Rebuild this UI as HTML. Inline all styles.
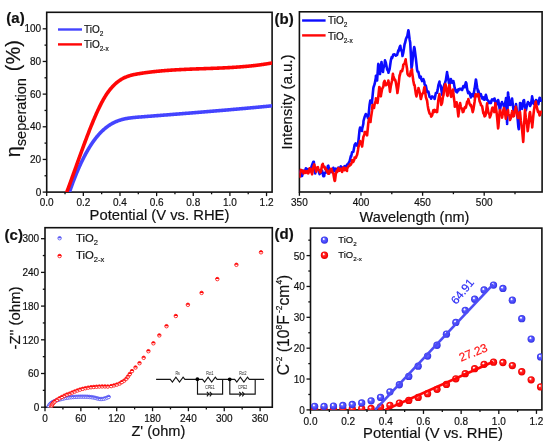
<!DOCTYPE html>
<html><head><meta charset="utf-8"><style>
html,body{margin:0;padding:0;background:#fff;}
svg{display:block;will-change:transform;}
text{font-family:"Liberation Sans", sans-serif;fill:#111;stroke:#111;stroke-width:0.18px;}
.t5{font-size:5px;fill:#333;}
.t7{font-size:7px;}
.t8{font-size:8px;}
.t9{font-size:10px;}
.t95{font-size:10px;}
.t10{font-size:10px;}
.t105{font-size:10.5px;}
.t11{font-size:11px;}
.t12{font-size:12px;}
.t13{font-size:13px;}
.t14{font-size:14px;}
.t145{font-size:14.5px;}
.t15{font-size:15px;}
.t20{font-size:20px;}
.b15{font-size:15px;font-weight:bold;}
</style></head>
<body><svg width="550" height="445" viewBox="0 0 550 445">
<rect width="550" height="445" fill="#fff"/>
<rect x="46.7" y="12.3" width="225.40000000000003" height="179.79999999999998" fill="none" stroke="#111" stroke-width="1.6"/>
<line x1="42.7" y1="192.10" x2="46.7" y2="192.10" stroke="#111" stroke-width="1.3"/>
<text x="41.2" y="195.70" text-anchor="end" class="t9">0</text>
<line x1="44.5" y1="175.77" x2="46.7" y2="175.77" stroke="#111" stroke-width="1.3"/>
<line x1="42.7" y1="159.44" x2="46.7" y2="159.44" stroke="#111" stroke-width="1.3"/>
<text x="41.2" y="163.04" text-anchor="end" class="t9">20</text>
<line x1="44.5" y1="143.11" x2="46.7" y2="143.11" stroke="#111" stroke-width="1.3"/>
<line x1="42.7" y1="126.78" x2="46.7" y2="126.78" stroke="#111" stroke-width="1.3"/>
<text x="41.2" y="130.38" text-anchor="end" class="t9">40</text>
<line x1="44.5" y1="110.45" x2="46.7" y2="110.45" stroke="#111" stroke-width="1.3"/>
<line x1="42.7" y1="94.12" x2="46.7" y2="94.12" stroke="#111" stroke-width="1.3"/>
<text x="41.2" y="97.72" text-anchor="end" class="t9">60</text>
<line x1="44.5" y1="77.79" x2="46.7" y2="77.79" stroke="#111" stroke-width="1.3"/>
<line x1="42.7" y1="61.46" x2="46.7" y2="61.46" stroke="#111" stroke-width="1.3"/>
<text x="41.2" y="65.06" text-anchor="end" class="t9">80</text>
<line x1="44.5" y1="45.13" x2="46.7" y2="45.13" stroke="#111" stroke-width="1.3"/>
<line x1="42.7" y1="28.80" x2="46.7" y2="28.80" stroke="#111" stroke-width="1.3"/>
<text x="41.2" y="32.40" text-anchor="end" class="t9">100</text>
<line x1="46.70" y1="192.1" x2="46.70" y2="196.1" stroke="#111" stroke-width="1.3"/>
<text x="46.70" y="206.2" text-anchor="middle" class="t10">0.0</text>
<line x1="65.02" y1="192.1" x2="65.02" y2="194.29999999999998" stroke="#111" stroke-width="1.3"/>
<line x1="83.34" y1="192.1" x2="83.34" y2="196.1" stroke="#111" stroke-width="1.3"/>
<text x="83.34" y="206.2" text-anchor="middle" class="t10">0.2</text>
<line x1="101.66" y1="192.1" x2="101.66" y2="194.29999999999998" stroke="#111" stroke-width="1.3"/>
<line x1="119.98" y1="192.1" x2="119.98" y2="196.1" stroke="#111" stroke-width="1.3"/>
<text x="119.98" y="206.2" text-anchor="middle" class="t10">0.4</text>
<line x1="138.30" y1="192.1" x2="138.30" y2="194.29999999999998" stroke="#111" stroke-width="1.3"/>
<line x1="156.62" y1="192.1" x2="156.62" y2="196.1" stroke="#111" stroke-width="1.3"/>
<text x="156.62" y="206.2" text-anchor="middle" class="t10">0.6</text>
<line x1="174.94" y1="192.1" x2="174.94" y2="194.29999999999998" stroke="#111" stroke-width="1.3"/>
<line x1="193.26" y1="192.1" x2="193.26" y2="196.1" stroke="#111" stroke-width="1.3"/>
<text x="193.26" y="206.2" text-anchor="middle" class="t10">0.8</text>
<line x1="211.58" y1="192.1" x2="211.58" y2="194.29999999999998" stroke="#111" stroke-width="1.3"/>
<line x1="229.90" y1="192.1" x2="229.90" y2="196.1" stroke="#111" stroke-width="1.3"/>
<text x="229.90" y="206.2" text-anchor="middle" class="t10">1.0</text>
<line x1="248.22" y1="192.1" x2="248.22" y2="194.29999999999998" stroke="#111" stroke-width="1.3"/>
<line x1="266.54" y1="192.1" x2="266.54" y2="196.1" stroke="#111" stroke-width="1.3"/>
<text x="266.54" y="206.2" text-anchor="middle" class="t10">1.2</text>
<text x="159.5" y="220" text-anchor="middle" style="font-size:14.8px">Potential (V vs. RHE)</text>
<text transform="translate(20.2,157.3) rotate(-90)" class="t20">η<tspan style="font-size:14.6px" dy="6">seperation</tspan><tspan style="font-size:20px" dy="-6" dx="1.2"> (%)</tspan></text>
<text x="6.3" y="22.6" class="b15">(a)</text>
<line x1="58" y1="29.5" x2="82" y2="29.5" stroke="#4444ff" stroke-width="2.4"/>
<line x1="58" y1="44.4" x2="82" y2="44.4" stroke="#ff0606" stroke-width="2.4"/>
<text x="84" y="33.2" style="font-size:10px">TiO<tspan style="font-size:6.5px" dy="3">2</tspan></text>
<text x="84" y="47.7" style="font-size:10px">TiO<tspan style="font-size:6.5px" dy="3">2-x</tspan></text>
<defs><clipPath id="ca"><rect x="46.7" y="12.3" width="225.40000000000003" height="179.79999999999998"/></clipPath></defs>
<g clip-path="url(#ca)"><polyline points="68.40,195.11 68.90,193.64 69.40,192.18 69.90,190.74 70.40,189.32 70.90,187.92 71.40,186.53 71.90,185.16 72.40,183.81 72.90,182.47 73.40,181.15 73.90,179.85 74.40,178.57 74.90,177.30 75.40,176.05 75.90,174.81 76.40,173.59 76.90,172.39 77.40,171.20 77.90,170.03 78.40,168.88 78.90,167.74 79.40,166.62 79.90,165.51 80.40,164.42 80.90,163.35 81.40,162.29 81.90,161.25 82.40,160.22 82.90,159.21 83.40,158.21 83.90,157.23 84.40,156.26 84.90,155.31 85.40,154.37 85.90,153.45 86.40,152.54 86.90,151.65 87.40,150.77 87.90,149.91 88.40,149.06 88.90,148.23 89.40,147.41 89.90,146.60 90.40,145.81 90.90,145.03 91.40,144.27 91.90,143.52 92.40,142.78 92.90,142.06 93.40,141.35 93.90,140.65 94.40,139.97 94.90,139.30 95.40,138.64 95.90,138.00 96.40,137.37 96.90,136.76 97.40,136.15 97.90,135.56 98.40,134.98 98.90,134.42 99.40,133.86 99.90,133.32 100.40,132.79 100.90,132.28 101.40,131.77 101.90,131.28 102.40,130.80 102.90,130.33 103.40,129.87 103.90,129.42 104.40,128.99 104.90,128.56 105.40,128.15 105.90,127.74 106.40,127.35 106.90,126.97 107.40,126.59 107.90,126.23 108.40,125.88 108.90,125.54 109.40,125.20 109.90,124.88 110.40,124.57 110.90,124.26 111.40,123.96 111.90,123.68 112.40,123.40 112.90,123.13 113.40,122.87 113.90,122.62 114.40,122.37 114.90,122.14 115.40,121.91 115.90,121.69 116.40,121.47 116.90,121.27 117.40,121.07 117.90,120.88 118.40,120.69 118.90,120.51 119.40,120.34 119.90,120.18 120.40,120.02 120.90,119.87 121.40,119.72 121.90,119.58 122.40,119.44 122.90,119.31 123.40,119.19 123.90,119.07 124.40,118.96 124.90,118.85 125.40,118.74 125.90,118.64 126.40,118.55 126.90,118.45 127.40,118.37 127.90,118.28 128.40,118.20 128.90,118.12 129.40,118.05 129.90,117.98 130.40,117.91 130.90,117.85 131.40,117.79 131.90,117.73 132.40,117.67 132.90,117.62 133.40,117.57 133.90,117.52 134.40,117.47 134.90,117.42 135.40,117.37 135.90,117.33 136.40,117.29 136.90,117.25 137.40,117.20 137.90,117.16 138.40,117.12 138.90,117.08 139.40,117.04 139.90,117.00 140.40,116.97 140.90,116.93 141.40,116.89 141.90,116.85 142.40,116.81 142.90,116.77 143.40,116.73 143.90,116.69 144.40,116.65 144.90,116.61 145.40,116.57 145.90,116.53 146.40,116.49 146.90,116.45 147.40,116.41 147.90,116.37 148.40,116.33 148.90,116.29 149.40,116.26 149.90,116.22 150.40,116.18 150.90,116.14 151.40,116.10 151.90,116.06 152.40,116.02 152.90,115.98 153.40,115.94 153.90,115.90 154.40,115.86 154.90,115.82 155.40,115.78 155.90,115.74 156.40,115.70 156.90,115.66 157.40,115.63 157.90,115.59 158.40,115.55 158.90,115.51 159.40,115.47 159.90,115.43 160.40,115.39 160.90,115.35 161.40,115.31 161.90,115.27 162.40,115.23 162.90,115.19 163.40,115.15 163.90,115.11 164.40,115.07 164.90,115.03 165.40,115.00 165.90,114.96 166.40,114.92 166.90,114.88 167.40,114.84 167.90,114.80 168.40,114.76 168.90,114.72 169.40,114.68 169.90,114.64 170.40,114.60 170.90,114.56 171.40,114.52 171.90,114.48 172.40,114.44 172.90,114.40 173.40,114.36 173.90,114.32 174.40,114.28 174.90,114.24 175.40,114.20 175.90,114.17 176.40,114.13 176.90,114.09 177.40,114.05 177.90,114.01 178.40,113.97 178.90,113.93 179.40,113.89 179.90,113.85 180.40,113.81 180.90,113.77 181.40,113.73 181.90,113.69 182.40,113.65 182.90,113.61 183.40,113.57 183.90,113.53 184.40,113.49 184.90,113.45 185.40,113.41 185.90,113.37 186.40,113.33 186.90,113.29 187.40,113.25 187.90,113.21 188.40,113.17 188.90,113.13 189.40,113.09 189.90,113.05 190.40,113.01 190.90,112.97 191.40,112.93 191.90,112.89 192.40,112.85 192.90,112.81 193.40,112.76 193.90,112.72 194.40,112.68 194.90,112.64 195.40,112.60 195.90,112.56 196.40,112.52 196.90,112.48 197.40,112.44 197.90,112.40 198.40,112.36 198.90,112.32 199.40,112.28 199.90,112.24 200.40,112.20 200.90,112.15 201.40,112.11 201.90,112.07 202.40,112.03 202.90,111.99 203.40,111.95 203.90,111.91 204.40,111.87 204.90,111.83 205.40,111.79 205.90,111.74 206.40,111.70 206.90,111.66 207.40,111.62 207.90,111.58 208.40,111.54 208.90,111.50 209.40,111.45 209.90,111.41 210.40,111.37 210.90,111.33 211.40,111.29 211.90,111.25 212.40,111.20 212.90,111.16 213.40,111.12 213.90,111.08 214.40,111.04 214.90,111.00 215.40,110.95 215.90,110.91 216.40,110.87 216.90,110.83 217.40,110.78 217.90,110.74 218.40,110.70 218.90,110.66 219.40,110.62 219.90,110.57 220.40,110.53 220.90,110.49 221.40,110.45 221.90,110.40 222.40,110.36 222.90,110.32 223.40,110.27 223.90,110.23 224.40,110.19 224.90,110.15 225.40,110.10 225.90,110.06 226.40,110.02 226.90,109.97 227.40,109.93 227.90,109.89 228.40,109.84 228.90,109.80 229.40,109.76 229.90,109.71 230.40,109.67 230.90,109.63 231.40,109.58 231.90,109.54 232.40,109.50 232.90,109.45 233.40,109.41 233.90,109.36 234.40,109.32 234.90,109.28 235.40,109.23 235.90,109.19 236.40,109.14 236.90,109.10 237.40,109.05 237.90,109.01 238.40,108.97 238.90,108.92 239.40,108.88 239.90,108.83 240.40,108.79 240.90,108.74 241.40,108.70 241.90,108.65 242.40,108.61 242.90,108.56 243.40,108.52 243.90,108.47 244.40,108.43 244.90,108.38 245.40,108.34 245.90,108.29 246.40,108.25 246.90,108.20 247.40,108.15 247.90,108.11 248.40,108.06 248.90,108.02 249.40,107.97 249.90,107.93 250.40,107.88 250.90,107.83 251.40,107.79 251.90,107.74 252.40,107.69 252.90,107.65 253.40,107.60 253.90,107.56 254.40,107.51 254.90,107.46 255.40,107.42 255.90,107.37 256.40,107.32 256.90,107.27 257.40,107.23 257.90,107.18 258.40,107.13 258.90,107.09 259.40,107.04 259.90,106.99 260.40,106.94 260.90,106.90 261.40,106.85 261.90,106.80 262.40,106.75 262.90,106.70 263.40,106.66 263.90,106.61 264.40,106.56 264.90,106.51 265.40,106.46 265.90,106.42 266.40,106.37 266.90,106.32 267.40,106.27 267.90,106.22 268.40,106.17 268.90,106.12 269.40,106.07 269.90,106.03 270.40,105.98 270.90,105.93 271.40,105.88 271.90,105.83 272.40,105.78 272.90,105.73 273.40,105.68 273.90,105.63" fill="none" stroke="#4444ff" stroke-width="3.6" stroke-linejoin="round"/>
<polyline points="65.90,194.52 66.40,193.17 66.90,191.82 67.40,190.47 67.90,189.11 68.40,187.75 68.90,186.38 69.40,185.01 69.90,183.64 70.40,182.26 70.90,180.88 71.40,179.50 71.90,178.12 72.40,176.73 72.90,175.34 73.40,173.95 73.90,172.56 74.40,171.17 74.90,169.77 75.40,168.38 75.90,166.99 76.40,165.59 76.90,164.20 77.40,162.81 77.90,161.42 78.40,160.03 78.90,158.64 79.40,157.26 79.90,155.88 80.40,154.50 80.90,153.12 81.40,151.75 81.90,150.38 82.40,149.01 82.90,147.65 83.40,146.29 83.90,144.94 84.40,143.59 84.90,142.25 85.40,140.92 85.90,139.59 86.40,138.26 86.90,136.94 87.40,135.63 87.90,134.33 88.40,133.03 88.90,131.75 89.40,130.47 89.90,129.19 90.40,127.93 90.90,126.68 91.40,125.43 91.90,124.20 92.40,122.97 92.90,121.76 93.40,120.55 93.90,119.36 94.40,118.18 94.90,117.02 95.40,115.86 95.90,114.72 96.40,113.59 96.90,112.48 97.40,111.38 97.90,110.29 98.40,109.22 98.90,108.17 99.40,107.13 99.90,106.11 100.40,105.11 100.90,104.12 101.40,103.16 101.90,102.21 102.40,101.28 102.90,100.37 103.40,99.47 103.90,98.60 104.40,97.75 104.90,96.92 105.40,96.11 105.90,95.32 106.40,94.55 106.90,93.80 107.40,93.07 107.90,92.36 108.40,91.67 108.90,91.00 109.40,90.34 109.90,89.70 110.40,89.08 110.90,88.48 111.40,87.89 111.90,87.32 112.40,86.77 112.90,86.23 113.40,85.71 113.90,85.21 114.40,84.72 114.90,84.24 115.40,83.78 115.90,83.34 116.40,82.91 116.90,82.49 117.40,82.09 117.90,81.70 118.40,81.32 118.90,80.95 119.40,80.60 119.90,80.26 120.40,79.94 120.90,79.62 121.40,79.32 121.90,79.02 122.40,78.74 122.90,78.47 123.40,78.21 123.90,77.96 124.40,77.72 124.90,77.48 125.40,77.26 125.90,77.05 126.40,76.84 126.90,76.65 127.40,76.46 127.90,76.28 128.40,76.10 128.90,75.93 129.40,75.77 129.90,75.62 130.40,75.48 130.90,75.33 131.40,75.20 131.90,75.07 132.40,74.95 132.90,74.83 133.40,74.71 133.90,74.60 134.40,74.50 134.90,74.39 135.40,74.29 135.90,74.20 136.40,74.11 136.90,74.02 137.40,73.93 137.90,73.84 138.40,73.76 138.90,73.68 139.40,73.60 139.90,73.52 140.40,73.44 140.90,73.36 141.40,73.28 141.90,73.21 142.40,73.13 142.90,73.06 143.40,72.98 143.90,72.91 144.40,72.84 144.90,72.77 145.40,72.70 145.90,72.63 146.40,72.56 146.90,72.50 147.40,72.43 147.90,72.37 148.40,72.30 148.90,72.24 149.40,72.18 149.90,72.11 150.40,72.05 150.90,71.99 151.40,71.93 151.90,71.88 152.40,71.82 152.90,71.76 153.40,71.70 153.90,71.65 154.40,71.59 154.90,71.54 155.40,71.49 155.90,71.43 156.40,71.38 156.90,71.33 157.40,71.28 157.90,71.23 158.40,71.18 158.90,71.14 159.40,71.09 159.90,71.04 160.40,70.99 160.90,70.95 161.40,70.90 161.90,70.86 162.40,70.82 162.90,70.77 163.40,70.73 163.90,70.69 164.40,70.65 164.90,70.61 165.40,70.57 165.90,70.53 166.40,70.49 166.90,70.45 167.40,70.41 167.90,70.38 168.40,70.34 168.90,70.30 169.40,70.27 169.90,70.23 170.40,70.20 170.90,70.16 171.40,70.13 171.90,70.10 172.40,70.07 172.90,70.03 173.40,70.00 173.90,69.97 174.40,69.94 174.90,69.91 175.40,69.88 175.90,69.85 176.40,69.82 176.90,69.79 177.40,69.77 177.90,69.74 178.40,69.71 178.90,69.68 179.40,69.66 179.90,69.63 180.40,69.61 180.90,69.58 181.40,69.56 181.90,69.53 182.40,69.51 182.90,69.48 183.40,69.46 183.90,69.43 184.40,69.41 184.90,69.39 185.40,69.37 185.90,69.34 186.40,69.32 186.90,69.30 187.40,69.28 187.90,69.26 188.40,69.24 188.90,69.21 189.40,69.19 189.90,69.17 190.40,69.15 190.90,69.13 191.40,69.11 191.90,69.09 192.40,69.07 192.90,69.06 193.40,69.04 193.90,69.02 194.40,69.00 194.90,68.98 195.40,68.96 195.90,68.94 196.40,68.92 196.90,68.91 197.40,68.89 197.90,68.87 198.40,68.85 198.90,68.83 199.40,68.82 199.90,68.80 200.40,68.78 200.90,68.76 201.40,68.75 201.90,68.73 202.40,68.71 202.90,68.69 203.40,68.68 203.90,68.66 204.40,68.64 204.90,68.62 205.40,68.61 205.90,68.59 206.40,68.57 206.90,68.55 207.40,68.53 207.90,68.52 208.40,68.50 208.90,68.48 209.40,68.46 209.90,68.44 210.40,68.43 210.90,68.41 211.40,68.39 211.90,68.37 212.40,68.35 212.90,68.33 213.40,68.31 213.90,68.30 214.40,68.28 214.90,68.26 215.40,68.24 215.90,68.22 216.40,68.20 216.90,68.18 217.40,68.16 217.90,68.14 218.40,68.12 218.90,68.09 219.40,68.07 219.90,68.05 220.40,68.03 220.90,68.01 221.40,67.99 221.90,67.96 222.40,67.94 222.90,67.92 223.40,67.89 223.90,67.87 224.40,67.85 224.90,67.82 225.40,67.80 225.90,67.77 226.40,67.75 226.90,67.72 227.40,67.69 227.90,67.67 228.40,67.64 228.90,67.61 229.40,67.59 229.90,67.56 230.40,67.53 230.90,67.50 231.40,67.47 231.90,67.44 232.40,67.41 232.90,67.38 233.40,67.35 233.90,67.32 234.40,67.29 234.90,67.25 235.40,67.22 235.90,67.19 236.40,67.15 236.90,67.12 237.40,67.08 237.90,67.05 238.40,67.01 238.90,66.97 239.40,66.94 239.90,66.90 240.40,66.86 240.90,66.82 241.40,66.78 241.90,66.74 242.40,66.70 242.90,66.66 243.40,66.62 243.90,66.58 244.40,66.54 244.90,66.49 245.40,66.45 245.90,66.40 246.40,66.36 246.90,66.31 247.40,66.26 247.90,66.22 248.40,66.17 248.90,66.12 249.40,66.07 249.90,66.02 250.40,65.97 250.90,65.92 251.40,65.86 251.90,65.81 252.40,65.76 252.90,65.70 253.40,65.65 253.90,65.59 254.40,65.53 254.90,65.48 255.40,65.42 255.90,65.36 256.40,65.30 256.90,65.24 257.40,65.18 257.90,65.11 258.40,65.05 258.90,64.98 259.40,64.92 259.90,64.85 260.40,64.79 260.90,64.72 261.40,64.65 261.90,64.58 262.40,64.51 262.90,64.44 263.40,64.37 263.90,64.29 264.40,64.22 264.90,64.14 265.40,64.07 265.90,63.99 266.40,63.91 266.90,63.84 267.40,63.76 267.90,63.67 268.40,63.59 268.90,63.51 269.40,63.43 269.90,63.34 270.40,63.26 270.90,63.17 271.40,63.08 271.90,62.99 272.40,62.90 272.90,62.81 273.40,62.72 273.90,62.63" fill="none" stroke="#ff0606" stroke-width="3.6" stroke-linejoin="round"/></g>
<rect x="299.4" y="11.8" width="242.70000000000005" height="180.2" fill="none" stroke="#111" stroke-width="1.6"/>
<line x1="299.40" y1="192.0" x2="299.40" y2="195.8" stroke="#111" stroke-width="1.3"/>
<text x="299.40" y="206.2" text-anchor="middle" class="t10">350</text>
<line x1="330.20" y1="192.0" x2="330.20" y2="194.2" stroke="#111" stroke-width="1.3"/>
<line x1="361.00" y1="192.0" x2="361.00" y2="195.8" stroke="#111" stroke-width="1.3"/>
<text x="361.00" y="206.2" text-anchor="middle" class="t10">400</text>
<line x1="391.80" y1="192.0" x2="391.80" y2="194.2" stroke="#111" stroke-width="1.3"/>
<line x1="422.60" y1="192.0" x2="422.60" y2="195.8" stroke="#111" stroke-width="1.3"/>
<text x="422.60" y="206.2" text-anchor="middle" class="t10">450</text>
<line x1="453.40" y1="192.0" x2="453.40" y2="194.2" stroke="#111" stroke-width="1.3"/>
<line x1="484.20" y1="192.0" x2="484.20" y2="195.8" stroke="#111" stroke-width="1.3"/>
<text x="484.20" y="206.2" text-anchor="middle" class="t10">500</text>
<line x1="515.00" y1="192.0" x2="515.00" y2="194.2" stroke="#111" stroke-width="1.3"/>
<text x="414.5" y="221.9" text-anchor="middle" class="t145">Wavelength (nm)</text>
<text transform="translate(292.1,102) rotate(-90)" text-anchor="middle" class="t15">Intensity (a.u.)</text>
<text x="274.6" y="23.9" class="b15">(b)</text>
<line x1="302.1" y1="20.5" x2="325.6" y2="20.5" stroke="#0c0cff" stroke-width="2.4"/>
<line x1="302.1" y1="35.4" x2="325.6" y2="35.4" stroke="#ff0606" stroke-width="2.4"/>
<text x="328" y="24.4" style="font-size:10px">TiO<tspan style="font-size:6.5px" dy="3">2</tspan></text>
<text x="328" y="39.6" style="font-size:10px">TiO<tspan style="font-size:6.5px" dy="3">2-x</tspan></text>
<defs><clipPath id="cb"><rect x="299.4" y="11.8" width="242.70000000000005" height="180.2"/></clipPath></defs>
<g clip-path="url(#cb)"><polyline points="299.60,172.36 299.60,171.60 300.85,172.47 301.70,176.10 302.10,175.87 303.35,170.64 303.50,171.60 304.60,172.35 305.85,168.35 306.60,168.90 307.10,170.75 308.35,169.24 308.90,171.60 309.60,169.41 310.85,170.06 311.10,168.00 312.10,165.03 313.35,161.68 313.80,161.70 314.60,170.33 315.20,173.40 315.85,170.13 317.00,168.00 317.10,168.90 318.35,169.83 319.20,172.90 319.60,174.12 320.85,172.26 321.50,170.70 322.10,170.83 323.35,176.09 324.20,176.10 324.60,173.05 325.85,172.78 326.00,170.70 327.10,169.21 327.80,166.20 328.35,165.63 329.60,172.50 330.00,171.60 330.85,169.78 332.10,172.05 333.35,167.76 334.00,169.30 334.60,171.06 335.85,168.69 336.80,170.70 337.10,171.34 338.35,167.66 339.60,170.32 340.00,168.00 340.85,166.40 342.10,170.75 343.00,169.00 343.35,167.24 344.60,166.15 345.85,167.81 346.00,167.00 347.10,164.55 348.35,164.33 348.60,163.00 349.60,161.34 350.85,156.07 351.10,156.80 352.10,152.22 353.00,152.00 353.35,151.77 354.60,144.98 355.60,143.30 355.85,145.28 357.10,143.93 357.50,146.00 358.35,141.60 359.60,129.69 360.10,127.60 360.85,130.30 362.00,131.00 362.10,129.00 363.35,123.77 363.50,121.00 364.60,116.99 365.80,114.00 365.85,115.02 367.10,115.16 368.00,118.00 368.35,117.30 369.60,104.68 370.30,100.50 370.85,102.65 372.00,103.00 372.10,100.57 373.35,88.04 373.60,87.00 374.60,84.15 375.85,77.77 375.90,75.80 377.00,80.00 377.10,80.54 378.20,64.50 378.35,63.95 379.60,72.90 380.00,74.00 380.85,66.10 381.50,62.00 382.10,67.49 383.00,72.00 383.35,68.69 384.60,64.39 385.00,60.40 385.85,62.62 387.10,69.28 388.35,71.50 388.40,72.80 389.60,69.09 390.85,60.30 391.70,57.10 392.10,57.96 393.35,54.57 394.60,54.32 395.10,54.80 395.85,55.68 397.10,54.96 398.35,50.23 398.50,51.50 399.60,47.31 400.30,45.80 400.85,49.24 402.10,52.14 402.50,56.00 403.35,52.39 404.60,44.26 405.20,42.50 405.85,39.25 406.80,36.90 407.10,37.18 408.35,30.33 408.60,31.20 409.60,39.44 410.20,42.50 410.85,54.04 411.50,68.30 412.10,64.96 413.35,52.42 414.20,47.00 414.60,48.45 415.85,58.36 417.10,69.83 417.60,71.70 418.35,71.72 419.60,77.56 420.85,76.67 421.00,78.40 422.10,81.14 423.35,79.21 424.30,81.80 424.60,84.48 425.85,85.73 427.10,92.01 427.70,91.90 428.35,91.62 429.60,96.85 430.85,97.46 431.10,98.70 432.10,96.42 433.35,97.05 434.40,97.50 434.60,98.97 435.85,93.00 437.10,92.64 437.70,89.60 438.35,85.36 439.50,81.60 439.60,83.75 440.85,86.03 442.10,94.91 442.20,94.10 443.35,88.50 444.60,83.65 444.90,83.40 445.85,80.19 447.10,71.97 447.20,73.50 448.35,79.00 449.00,83.40 449.60,84.36 450.85,79.13 451.20,79.80 452.10,82.72 453.35,81.10 453.90,83.40 454.60,87.66 455.70,91.40 455.85,89.87 457.10,92.32 458.35,89.25 458.40,90.50 459.60,88.76 460.85,89.45 461.00,88.70 462.10,90.05 463.35,86.11 463.70,86.90 464.60,87.25 465.85,82.28 466.40,83.40 467.10,89.13 468.20,93.20 468.35,91.53 469.60,92.63 470.85,97.38 470.90,95.90 472.10,94.19 473.35,96.26 473.60,94.10 474.60,88.80 475.85,79.58 476.00,79.80 477.10,87.18 478.10,92.30 478.35,90.59 479.60,95.49 480.80,95.90 480.85,94.12 482.10,98.36 483.35,97.39 483.50,99.50 484.60,99.63 485.85,94.80 486.20,95.90 487.10,99.73 488.35,100.73 488.90,103.10 489.60,101.75 490.85,103.07 491.60,100.40 492.10,99.37 493.35,100.35 494.30,98.60 494.60,98.65 495.85,104.54 496.00,106.00 497.10,102.00 498.00,100.00 498.35,100.63 499.60,108.63 500.00,110.00 500.85,104.97 502.00,102.00 502.10,104.07 503.35,104.16 504.00,107.00 504.60,104.97 505.85,99.92 506.00,98.00 507.10,122.94 507.10,123.90 508.00,92.50 508.35,95.39 509.60,101.42 510.00,105.00 510.85,104.58 512.00,100.00 512.10,98.64 513.35,109.16 514.00,112.00 514.60,108.79 515.85,106.12 516.00,104.00 517.10,112.87 518.35,127.04 518.80,129.30 519.60,112.52 520.00,103.00 520.85,103.38 522.00,108.00 522.10,108.85 523.35,100.85 524.00,100.00 524.60,105.04 525.85,110.49 526.00,110.00 527.10,104.57 528.00,102.00 528.35,103.63 529.60,103.24 530.00,106.00 530.85,104.45 532.00,98.00 532.10,96.37 533.35,102.99 534.00,104.00 534.60,101.73 535.85,101.06 536.00,100.00 537.10,100.99 538.00,103.00 538.35,104.14 539.60,97.83 540.00,98.00 540.85,100.75 542.00,100.00" fill="none" stroke="#0c0cff" stroke-width="2.6" stroke-linejoin="round"/>
<polyline points="299.60,177.65 299.60,176.10 300.80,169.80 300.85,171.64 302.10,170.46 303.35,172.56 303.50,173.40 304.60,170.86 305.85,172.91 306.20,171.60 307.10,171.05 308.00,172.50 308.35,173.41 309.60,168.27 310.70,168.90 310.85,171.01 312.00,173.80 312.10,174.34 313.35,166.75 314.30,164.40 314.60,166.28 315.85,169.28 316.10,171.60 317.10,167.55 317.90,167.10 318.35,169.56 319.60,170.63 320.10,172.50 320.85,171.76 322.10,164.96 322.80,163.90 323.35,166.95 324.60,166.79 325.10,168.90 325.85,168.65 326.90,171.60 327.10,170.23 328.35,173.81 329.10,173.80 329.60,171.36 330.85,168.91 331.40,168.90 332.10,171.62 333.35,173.38 333.60,175.20 334.60,180.89 335.00,180.60 335.85,173.86 336.80,170.70 337.10,172.03 338.35,168.09 339.00,169.30 339.60,170.72 340.85,168.51 342.00,170.00 342.10,171.99 343.35,167.48 344.60,170.18 345.00,168.00 345.85,168.45 347.00,171.00 347.10,168.75 348.35,166.37 349.60,165.82 349.90,164.20 350.85,164.65 352.00,162.00 352.10,159.95 353.35,161.85 354.50,159.00 354.60,157.63 355.85,157.81 356.30,156.50 357.10,154.76 358.00,150.00 358.35,147.40 359.60,143.81 360.10,141.00 360.85,141.90 362.00,145.00 362.10,146.55 363.35,136.99 364.60,133.91 364.60,132.00 365.85,132.06 367.00,135.00 367.10,135.37 368.35,122.70 369.10,118.60 369.60,118.96 370.50,122.00 370.85,118.39 372.10,110.22 372.50,105.00 373.35,105.45 374.00,108.00 374.60,104.29 375.85,100.35 375.90,98.30 377.10,100.13 377.50,103.00 378.35,96.37 379.30,87.00 379.60,87.52 380.85,96.32 381.00,95.00 382.10,88.96 383.35,86.54 383.80,82.50 384.60,80.97 385.85,85.29 386.00,84.00 387.10,84.48 388.30,81.40 388.35,80.45 389.60,88.19 390.00,91.90 390.85,85.89 392.10,80.26 392.90,73.90 393.35,76.06 394.60,79.93 395.10,79.60 395.85,82.41 397.10,90.13 397.40,93.00 398.35,86.67 399.60,75.26 399.60,76.20 400.85,71.03 402.10,71.10 403.00,67.20 403.35,64.67 404.60,63.60 405.70,59.30 405.85,61.83 407.10,69.09 407.50,73.90 408.35,75.51 409.60,74.34 409.70,76.20 410.85,71.10 412.00,69.40 412.10,72.09 413.35,81.02 414.20,85.20 414.60,85.17 415.85,93.91 416.50,96.40 417.10,92.88 418.35,89.54 418.50,88.00 419.60,92.02 420.85,98.93 421.00,98.70 422.10,94.27 423.35,92.66 424.30,87.40 424.60,87.17 425.85,97.13 427.10,100.75 427.70,105.40 428.35,109.35 429.60,113.54 430.85,114.65 431.10,116.60 432.10,115.37 433.35,110.23 434.40,109.90 434.60,111.98 435.85,110.41 436.80,112.10 437.10,112.03 438.35,100.29 439.50,94.10 439.60,96.23 440.85,100.60 441.30,104.90 442.10,102.74 443.10,95.90 443.35,95.74 444.60,86.36 445.40,84.20 445.85,85.73 447.10,94.83 447.60,95.90 448.35,89.94 449.40,85.10 449.60,85.21 450.85,95.83 451.20,96.80 452.10,92.42 453.00,89.60 453.35,93.75 454.60,102.95 454.80,106.70 455.85,105.25 456.60,102.20 457.10,105.00 458.35,116.44 458.40,115.70 459.60,106.06 460.10,103.10 460.85,107.08 462.10,109.02 462.80,112.10 463.35,111.82 464.60,107.68 465.50,106.70 465.85,107.85 467.10,101.89 468.20,100.40 468.35,99.11 469.60,104.00 470.85,106.00 470.90,104.90 472.10,108.93 472.70,112.10 473.35,109.75 474.60,101.69 475.40,95.00 475.85,94.13 477.10,96.18 478.10,94.10 478.35,94.00 479.60,101.33 480.80,104.00 480.85,104.96 482.10,106.09 483.35,113.34 483.50,112.10 484.60,116.31 485.30,115.70 485.85,114.17 487.10,103.33 487.10,104.90 488.35,112.48 489.60,114.88 489.80,117.50 490.85,114.84 492.10,108.39 492.50,107.60 493.35,108.30 494.30,112.10 494.60,111.11 495.40,103.20 495.85,106.21 497.10,117.09 498.10,128.40 498.35,126.81 499.60,111.78 500.00,110.00 500.85,114.23 502.00,116.00 502.10,117.58 503.35,109.84 504.00,108.00 504.60,110.20 505.85,118.73 506.00,118.00 507.10,111.87 508.00,110.00 508.35,113.72 509.60,116.24 510.00,120.00 510.85,117.93 512.00,112.00 512.10,111.11 513.35,116.39 514.00,116.00 514.60,112.89 515.85,106.66 516.00,108.00 517.10,112.51 518.00,118.00 518.35,117.91 519.60,112.52 520.00,112.00 520.85,120.75 522.10,129.73 523.20,141.90 523.35,140.14 524.60,116.07 525.00,110.00 525.85,117.69 527.10,124.86 527.70,131.10 528.35,126.91 529.60,113.41 530.00,112.00 530.85,118.82 532.10,124.73 532.20,127.50 533.35,115.35 534.00,110.00 534.60,106.23 535.80,101.50 535.85,103.10 537.10,108.39 538.00,112.00 538.35,111.01 539.60,115.38 540.00,115.00 540.85,111.80 542.00,112.00" fill="none" stroke="#ff0606" stroke-width="2.6" stroke-linejoin="round"/></g>
<rect x="45.0" y="227.7" width="227.3" height="179.5" fill="none" stroke="#111" stroke-width="1.6"/>
<line x1="41.0" y1="407.20" x2="45.0" y2="407.20" stroke="#111" stroke-width="1.3"/>
<text x="39.2" y="410.90" text-anchor="end" class="t9">0</text>
<line x1="42.8" y1="390.35" x2="45.0" y2="390.35" stroke="#111" stroke-width="1.3"/>
<line x1="41.0" y1="373.50" x2="45.0" y2="373.50" stroke="#111" stroke-width="1.3"/>
<text x="39.2" y="377.20" text-anchor="end" class="t9">60</text>
<line x1="42.8" y1="356.65" x2="45.0" y2="356.65" stroke="#111" stroke-width="1.3"/>
<line x1="41.0" y1="339.80" x2="45.0" y2="339.80" stroke="#111" stroke-width="1.3"/>
<text x="39.2" y="343.50" text-anchor="end" class="t9">120</text>
<line x1="42.8" y1="322.94" x2="45.0" y2="322.94" stroke="#111" stroke-width="1.3"/>
<line x1="41.0" y1="306.09" x2="45.0" y2="306.09" stroke="#111" stroke-width="1.3"/>
<text x="39.2" y="309.79" text-anchor="end" class="t9">180</text>
<line x1="42.8" y1="289.24" x2="45.0" y2="289.24" stroke="#111" stroke-width="1.3"/>
<line x1="41.0" y1="272.39" x2="45.0" y2="272.39" stroke="#111" stroke-width="1.3"/>
<text x="39.2" y="276.09" text-anchor="end" class="t9">240</text>
<line x1="42.8" y1="255.54" x2="45.0" y2="255.54" stroke="#111" stroke-width="1.3"/>
<line x1="41.0" y1="238.69" x2="45.0" y2="238.69" stroke="#111" stroke-width="1.3"/>
<text x="39.2" y="242.39" text-anchor="end" class="t9">300</text>
<line x1="45.00" y1="407.2" x2="45.00" y2="411.2" stroke="#111" stroke-width="1.3"/>
<text x="45.00" y="422" text-anchor="middle" class="t9">0</text>
<line x1="62.92" y1="407.2" x2="62.92" y2="409.4" stroke="#111" stroke-width="1.3"/>
<line x1="80.85" y1="407.2" x2="80.85" y2="411.2" stroke="#111" stroke-width="1.3"/>
<text x="80.85" y="422" text-anchor="middle" class="t9">60</text>
<line x1="98.78" y1="407.2" x2="98.78" y2="409.4" stroke="#111" stroke-width="1.3"/>
<line x1="116.70" y1="407.2" x2="116.70" y2="411.2" stroke="#111" stroke-width="1.3"/>
<text x="116.70" y="422" text-anchor="middle" class="t9">120</text>
<line x1="134.62" y1="407.2" x2="134.62" y2="409.4" stroke="#111" stroke-width="1.3"/>
<line x1="152.55" y1="407.2" x2="152.55" y2="411.2" stroke="#111" stroke-width="1.3"/>
<text x="152.55" y="422" text-anchor="middle" class="t9">180</text>
<line x1="170.48" y1="407.2" x2="170.48" y2="409.4" stroke="#111" stroke-width="1.3"/>
<line x1="188.40" y1="407.2" x2="188.40" y2="411.2" stroke="#111" stroke-width="1.3"/>
<text x="188.40" y="422" text-anchor="middle" class="t9">240</text>
<line x1="206.33" y1="407.2" x2="206.33" y2="409.4" stroke="#111" stroke-width="1.3"/>
<line x1="224.25" y1="407.2" x2="224.25" y2="411.2" stroke="#111" stroke-width="1.3"/>
<text x="224.25" y="422" text-anchor="middle" class="t9">300</text>
<line x1="242.18" y1="407.2" x2="242.18" y2="409.4" stroke="#111" stroke-width="1.3"/>
<line x1="260.10" y1="407.2" x2="260.10" y2="411.2" stroke="#111" stroke-width="1.3"/>
<text x="260.10" y="422" text-anchor="middle" class="t9">360</text>
<text x="158.4" y="436.4" text-anchor="middle" style="font-size:14.6px">Z' (ohm)</text>
<text transform="translate(19.8,318) rotate(-90)" text-anchor="middle" class="t15">-Z'' (ohm)</text>
<text x="4.6" y="239.6" class="b15">(c)</text>
<circle cx="59.60" cy="238.20" r="1.75" fill="#fff" stroke="#5858f4" stroke-width="0.8"/><path d="M57.85,238.20 A1.75,1.75 0 0 1 61.35,238.20 Z" fill="#5858f4"/>
<circle cx="59.60" cy="256.00" r="1.75" fill="#fff" stroke="#ff0606" stroke-width="0.8"/><path d="M57.85,256.00 A1.75,1.75 0 0 1 61.35,256.00 Z" fill="#ff0606"/>
<text x="76" y="242.3" style="font-size:11.3px">TiO<tspan style="font-size:7.5px" dy="3">2</tspan></text>
<text x="76" y="259.1" style="font-size:11.3px">TiO<tspan style="font-size:7.5px" dy="3">2-x</tspan></text>
<defs><clipPath id="cc"><rect x="45.0" y="227.7" width="227.3" height="179.5"/></clipPath></defs>
<g clip-path="url(#cc)"><circle cx="48.40" cy="407.80" r="1.75" fill="#fff" stroke="#5858f4" stroke-width="0.8"/><path d="M46.65,407.80 A1.75,1.75 0 0 1 50.15,407.80 Z" fill="#5858f4"/><circle cx="48.84" cy="406.05" r="1.75" fill="#fff" stroke="#5858f4" stroke-width="0.8"/><path d="M47.09,406.05 A1.75,1.75 0 0 1 50.59,406.05 Z" fill="#5858f4"/><circle cx="49.75" cy="404.52" r="1.75" fill="#fff" stroke="#5858f4" stroke-width="0.8"/><path d="M48.00,404.52 A1.75,1.75 0 0 1 51.50,404.52 Z" fill="#5858f4"/><circle cx="51.02" cy="403.27" r="1.75" fill="#fff" stroke="#5858f4" stroke-width="0.8"/><path d="M49.27,403.27 A1.75,1.75 0 0 1 52.77,403.27 Z" fill="#5858f4"/><circle cx="52.49" cy="402.24" r="1.75" fill="#fff" stroke="#5858f4" stroke-width="0.8"/><path d="M50.74,402.24 A1.75,1.75 0 0 1 54.24,402.24 Z" fill="#5858f4"/><circle cx="54.09" cy="401.41" r="1.75" fill="#fff" stroke="#5858f4" stroke-width="0.8"/><path d="M52.34,401.41 A1.75,1.75 0 0 1 55.84,401.41 Z" fill="#5858f4"/><circle cx="55.75" cy="400.74" r="1.75" fill="#fff" stroke="#5858f4" stroke-width="0.8"/><path d="M54.00,400.74 A1.75,1.75 0 0 1 57.50,400.74 Z" fill="#5858f4"/><circle cx="57.44" cy="400.12" r="1.75" fill="#fff" stroke="#5858f4" stroke-width="0.8"/><path d="M55.69,400.12 A1.75,1.75 0 0 1 59.19,400.12 Z" fill="#5858f4"/><circle cx="59.17" cy="399.62" r="1.75" fill="#fff" stroke="#5858f4" stroke-width="0.8"/><path d="M57.42,399.62 A1.75,1.75 0 0 1 60.92,399.62 Z" fill="#5858f4"/><circle cx="60.91" cy="399.13" r="1.75" fill="#fff" stroke="#5858f4" stroke-width="0.8"/><path d="M59.16,399.13 A1.75,1.75 0 0 1 62.66,399.13 Z" fill="#5858f4"/><circle cx="62.65" cy="398.70" r="1.75" fill="#fff" stroke="#5858f4" stroke-width="0.8"/><path d="M60.90,398.70 A1.75,1.75 0 0 1 64.40,398.70 Z" fill="#5858f4"/><circle cx="64.40" cy="398.28" r="1.75" fill="#fff" stroke="#5858f4" stroke-width="0.8"/><path d="M62.65,398.28 A1.75,1.75 0 0 1 66.15,398.28 Z" fill="#5858f4"/><circle cx="66.16" cy="397.88" r="1.75" fill="#fff" stroke="#5858f4" stroke-width="0.8"/><path d="M64.41,397.88 A1.75,1.75 0 0 1 67.91,397.88 Z" fill="#5858f4"/><circle cx="67.94" cy="397.61" r="1.75" fill="#fff" stroke="#5858f4" stroke-width="0.8"/><path d="M66.19,397.61 A1.75,1.75 0 0 1 69.69,397.61 Z" fill="#5858f4"/><circle cx="69.72" cy="397.34" r="1.75" fill="#fff" stroke="#5858f4" stroke-width="0.8"/><path d="M67.97,397.34 A1.75,1.75 0 0 1 71.47,397.34 Z" fill="#5858f4"/><circle cx="71.51" cy="397.18" r="1.75" fill="#fff" stroke="#5858f4" stroke-width="0.8"/><path d="M69.76,397.18 A1.75,1.75 0 0 1 73.26,397.18 Z" fill="#5858f4"/><circle cx="73.30" cy="397.04" r="1.75" fill="#fff" stroke="#5858f4" stroke-width="0.8"/><path d="M71.55,397.04 A1.75,1.75 0 0 1 75.05,397.04 Z" fill="#5858f4"/><circle cx="75.10" cy="396.90" r="1.75" fill="#fff" stroke="#5858f4" stroke-width="0.8"/><path d="M73.35,396.90 A1.75,1.75 0 0 1 76.85,396.90 Z" fill="#5858f4"/><circle cx="76.90" cy="396.82" r="1.75" fill="#fff" stroke="#5858f4" stroke-width="0.8"/><path d="M75.15,396.82 A1.75,1.75 0 0 1 78.65,396.82 Z" fill="#5858f4"/><circle cx="78.70" cy="396.75" r="1.75" fill="#fff" stroke="#5858f4" stroke-width="0.8"/><path d="M76.95,396.75 A1.75,1.75 0 0 1 80.45,396.75 Z" fill="#5858f4"/><circle cx="80.49" cy="396.70" r="1.75" fill="#fff" stroke="#5858f4" stroke-width="0.8"/><path d="M78.74,396.70 A1.75,1.75 0 0 1 82.24,396.70 Z" fill="#5858f4"/><circle cx="82.29" cy="396.70" r="1.75" fill="#fff" stroke="#5858f4" stroke-width="0.8"/><path d="M80.54,396.70 A1.75,1.75 0 0 1 84.04,396.70 Z" fill="#5858f4"/><circle cx="84.09" cy="396.70" r="1.75" fill="#fff" stroke="#5858f4" stroke-width="0.8"/><path d="M82.34,396.70 A1.75,1.75 0 0 1 85.84,396.70 Z" fill="#5858f4"/><circle cx="85.89" cy="396.73" r="1.75" fill="#fff" stroke="#5858f4" stroke-width="0.8"/><path d="M84.14,396.73 A1.75,1.75 0 0 1 87.64,396.73 Z" fill="#5858f4"/><circle cx="87.69" cy="396.79" r="1.75" fill="#fff" stroke="#5858f4" stroke-width="0.8"/><path d="M85.94,396.79 A1.75,1.75 0 0 1 89.44,396.79 Z" fill="#5858f4"/><circle cx="89.49" cy="396.95" r="1.75" fill="#fff" stroke="#5858f4" stroke-width="0.8"/><path d="M87.74,396.95 A1.75,1.75 0 0 1 91.24,396.95 Z" fill="#5858f4"/><circle cx="91.28" cy="397.13" r="1.75" fill="#fff" stroke="#5858f4" stroke-width="0.8"/><path d="M89.53,397.13 A1.75,1.75 0 0 1 93.03,397.13 Z" fill="#5858f4"/><circle cx="93.05" cy="397.41" r="1.75" fill="#fff" stroke="#5858f4" stroke-width="0.8"/><path d="M91.30,397.41 A1.75,1.75 0 0 1 94.80,397.41 Z" fill="#5858f4"/><circle cx="94.82" cy="397.76" r="1.75" fill="#fff" stroke="#5858f4" stroke-width="0.8"/><path d="M93.07,397.76 A1.75,1.75 0 0 1 96.57,397.76 Z" fill="#5858f4"/><circle cx="96.56" cy="398.22" r="1.75" fill="#fff" stroke="#5858f4" stroke-width="0.8"/><path d="M94.81,398.22 A1.75,1.75 0 0 1 98.31,398.22 Z" fill="#5858f4"/><circle cx="98.30" cy="398.66" r="1.75" fill="#fff" stroke="#5858f4" stroke-width="0.8"/><path d="M96.55,398.66 A1.75,1.75 0 0 1 100.05,398.66 Z" fill="#5858f4"/><circle cx="100.07" cy="399.00" r="1.75" fill="#fff" stroke="#5858f4" stroke-width="0.8"/><path d="M98.32,399.00 A1.75,1.75 0 0 1 101.82,399.00 Z" fill="#5858f4"/><circle cx="101.87" cy="399.00" r="1.75" fill="#fff" stroke="#5858f4" stroke-width="0.8"/><path d="M100.12,399.00 A1.75,1.75 0 0 1 103.62,399.00 Z" fill="#5858f4"/><circle cx="103.65" cy="398.77" r="1.75" fill="#fff" stroke="#5858f4" stroke-width="0.8"/><path d="M101.90,398.77 A1.75,1.75 0 0 1 105.40,398.77 Z" fill="#5858f4"/><circle cx="105.39" cy="398.34" r="1.75" fill="#fff" stroke="#5858f4" stroke-width="0.8"/><path d="M103.64,398.34 A1.75,1.75 0 0 1 107.14,398.34 Z" fill="#5858f4"/><circle cx="107.06" cy="397.67" r="1.75" fill="#fff" stroke="#5858f4" stroke-width="0.8"/><path d="M105.31,397.67 A1.75,1.75 0 0 1 108.81,397.67 Z" fill="#5858f4"/><circle cx="108.70" cy="396.93" r="1.75" fill="#fff" stroke="#5858f4" stroke-width="0.8"/><path d="M106.95,396.93 A1.75,1.75 0 0 1 110.45,396.93 Z" fill="#5858f4"/><circle cx="51.20" cy="408.00" r="1.75" fill="#fff" stroke="#ff0606" stroke-width="0.8"/><path d="M49.45,408.00 A1.75,1.75 0 0 1 52.95,408.00 Z" fill="#ff0606"/><circle cx="51.41" cy="406.72" r="1.75" fill="#fff" stroke="#ff0606" stroke-width="0.8"/><path d="M49.66,406.72 A1.75,1.75 0 0 1 53.16,406.72 Z" fill="#ff0606"/><circle cx="51.68" cy="405.45" r="1.75" fill="#fff" stroke="#ff0606" stroke-width="0.8"/><path d="M49.93,405.45 A1.75,1.75 0 0 1 53.43,405.45 Z" fill="#ff0606"/><circle cx="52.30" cy="404.31" r="1.75" fill="#fff" stroke="#ff0606" stroke-width="0.8"/><path d="M50.55,404.31 A1.75,1.75 0 0 1 54.05,404.31 Z" fill="#ff0606"/><circle cx="52.98" cy="403.22" r="1.75" fill="#fff" stroke="#ff0606" stroke-width="0.8"/><path d="M51.23,403.22 A1.75,1.75 0 0 1 54.73,403.22 Z" fill="#ff0606"/><circle cx="53.90" cy="402.30" r="1.75" fill="#fff" stroke="#ff0606" stroke-width="0.8"/><path d="M52.15,402.30 A1.75,1.75 0 0 1 55.65,402.30 Z" fill="#ff0606"/><circle cx="54.80" cy="401.40" r="1.75" fill="#fff" stroke="#ff0606" stroke-width="0.8"/><path d="M53.05,401.40 A1.75,1.75 0 0 1 56.55,401.40 Z" fill="#ff0606"/><circle cx="57.09" cy="399.79" r="1.75" fill="#fff" stroke="#ff0606" stroke-width="0.8"/><path d="M55.34,399.79 A1.75,1.75 0 0 1 58.84,399.79 Z" fill="#ff0606"/><circle cx="59.49" cy="398.34" r="1.75" fill="#fff" stroke="#ff0606" stroke-width="0.8"/><path d="M57.74,398.34 A1.75,1.75 0 0 1 61.24,398.34 Z" fill="#ff0606"/><circle cx="61.93" cy="396.98" r="1.75" fill="#fff" stroke="#ff0606" stroke-width="0.8"/><path d="M60.18,396.98 A1.75,1.75 0 0 1 63.68,396.98 Z" fill="#ff0606"/><circle cx="64.42" cy="395.70" r="1.75" fill="#fff" stroke="#ff0606" stroke-width="0.8"/><path d="M62.67,395.70 A1.75,1.75 0 0 1 66.17,395.70 Z" fill="#ff0606"/><circle cx="66.98" cy="394.58" r="1.75" fill="#fff" stroke="#ff0606" stroke-width="0.8"/><path d="M65.23,394.58 A1.75,1.75 0 0 1 68.73,394.58 Z" fill="#ff0606"/><circle cx="69.62" cy="393.64" r="1.75" fill="#fff" stroke="#ff0606" stroke-width="0.8"/><path d="M67.87,393.64 A1.75,1.75 0 0 1 71.37,393.64 Z" fill="#ff0606"/><circle cx="72.21" cy="392.57" r="1.75" fill="#fff" stroke="#ff0606" stroke-width="0.8"/><path d="M70.46,392.57 A1.75,1.75 0 0 1 73.96,392.57 Z" fill="#ff0606"/><circle cx="74.79" cy="391.50" r="1.75" fill="#fff" stroke="#ff0606" stroke-width="0.8"/><path d="M73.04,391.50 A1.75,1.75 0 0 1 76.54,391.50 Z" fill="#ff0606"/><circle cx="77.41" cy="390.50" r="1.75" fill="#fff" stroke="#ff0606" stroke-width="0.8"/><path d="M75.66,390.50 A1.75,1.75 0 0 1 79.16,390.50 Z" fill="#ff0606"/><circle cx="80.06" cy="389.61" r="1.75" fill="#fff" stroke="#ff0606" stroke-width="0.8"/><path d="M78.31,389.61 A1.75,1.75 0 0 1 81.81,389.61 Z" fill="#ff0606"/><circle cx="82.76" cy="388.85" r="1.75" fill="#fff" stroke="#ff0606" stroke-width="0.8"/><path d="M81.01,388.85 A1.75,1.75 0 0 1 84.51,388.85 Z" fill="#ff0606"/><circle cx="85.48" cy="388.20" r="1.75" fill="#fff" stroke="#ff0606" stroke-width="0.8"/><path d="M83.73,388.20 A1.75,1.75 0 0 1 87.23,388.20 Z" fill="#ff0606"/><circle cx="88.23" cy="387.67" r="1.75" fill="#fff" stroke="#ff0606" stroke-width="0.8"/><path d="M86.48,387.67 A1.75,1.75 0 0 1 89.98,387.67 Z" fill="#ff0606"/><circle cx="91.00" cy="387.25" r="1.75" fill="#fff" stroke="#ff0606" stroke-width="0.8"/><path d="M89.25,387.25 A1.75,1.75 0 0 1 92.75,387.25 Z" fill="#ff0606"/><circle cx="93.78" cy="386.97" r="1.75" fill="#fff" stroke="#ff0606" stroke-width="0.8"/><path d="M92.03,386.97 A1.75,1.75 0 0 1 95.53,386.97 Z" fill="#ff0606"/><circle cx="96.57" cy="386.76" r="1.75" fill="#fff" stroke="#ff0606" stroke-width="0.8"/><path d="M94.82,386.76 A1.75,1.75 0 0 1 98.32,386.76 Z" fill="#ff0606"/><circle cx="99.36" cy="386.55" r="1.75" fill="#fff" stroke="#ff0606" stroke-width="0.8"/><path d="M97.61,386.55 A1.75,1.75 0 0 1 101.11,386.55 Z" fill="#ff0606"/><circle cx="102.16" cy="386.45" r="1.75" fill="#fff" stroke="#ff0606" stroke-width="0.8"/><path d="M100.41,386.45 A1.75,1.75 0 0 1 103.91,386.45 Z" fill="#ff0606"/><circle cx="104.96" cy="386.44" r="1.75" fill="#fff" stroke="#ff0606" stroke-width="0.8"/><path d="M103.21,386.44 A1.75,1.75 0 0 1 106.71,386.44 Z" fill="#ff0606"/><circle cx="107.76" cy="386.57" r="1.75" fill="#fff" stroke="#ff0606" stroke-width="0.8"/><path d="M106.01,386.57 A1.75,1.75 0 0 1 109.51,386.57 Z" fill="#ff0606"/><circle cx="111.20" cy="386.10" r="1.75" fill="#fff" stroke="#ff0606" stroke-width="0.8"/><path d="M109.45,386.10 A1.75,1.75 0 0 1 112.95,386.10 Z" fill="#ff0606"/><circle cx="114.00" cy="385.40" r="1.75" fill="#fff" stroke="#ff0606" stroke-width="0.8"/><path d="M112.25,385.40 A1.75,1.75 0 0 1 115.75,385.40 Z" fill="#ff0606"/><circle cx="116.90" cy="384.60" r="1.75" fill="#fff" stroke="#ff0606" stroke-width="0.8"/><path d="M115.15,384.60 A1.75,1.75 0 0 1 118.65,384.60 Z" fill="#ff0606"/><circle cx="119.70" cy="383.50" r="1.75" fill="#fff" stroke="#ff0606" stroke-width="0.8"/><path d="M117.95,383.50 A1.75,1.75 0 0 1 121.45,383.50 Z" fill="#ff0606"/><circle cx="121.90" cy="382.10" r="1.75" fill="#fff" stroke="#ff0606" stroke-width="0.8"/><path d="M120.15,382.10 A1.75,1.75 0 0 1 123.65,382.10 Z" fill="#ff0606"/><circle cx="124.20" cy="380.70" r="1.75" fill="#fff" stroke="#ff0606" stroke-width="0.8"/><path d="M122.45,380.70 A1.75,1.75 0 0 1 125.95,380.70 Z" fill="#ff0606"/><circle cx="126.40" cy="378.70" r="1.75" fill="#fff" stroke="#ff0606" stroke-width="0.8"/><path d="M124.65,378.70 A1.75,1.75 0 0 1 128.15,378.70 Z" fill="#ff0606"/><circle cx="128.10" cy="376.50" r="1.75" fill="#fff" stroke="#ff0606" stroke-width="0.8"/><path d="M126.35,376.50 A1.75,1.75 0 0 1 129.85,376.50 Z" fill="#ff0606"/><circle cx="129.80" cy="374.00" r="1.75" fill="#fff" stroke="#ff0606" stroke-width="0.8"/><path d="M128.05,374.00 A1.75,1.75 0 0 1 131.55,374.00 Z" fill="#ff0606"/><circle cx="132.00" cy="371.10" r="1.75" fill="#fff" stroke="#ff0606" stroke-width="0.8"/><path d="M130.25,371.10 A1.75,1.75 0 0 1 133.75,371.10 Z" fill="#ff0606"/><circle cx="135.50" cy="367.50" r="1.75" fill="#fff" stroke="#ff0606" stroke-width="0.8"/><path d="M133.75,367.50 A1.75,1.75 0 0 1 137.25,367.50 Z" fill="#ff0606"/><circle cx="139.50" cy="363.20" r="1.75" fill="#fff" stroke="#ff0606" stroke-width="0.8"/><path d="M137.75,363.20 A1.75,1.75 0 0 1 141.25,363.20 Z" fill="#ff0606"/><circle cx="143.70" cy="357.80" r="1.75" fill="#fff" stroke="#ff0606" stroke-width="0.8"/><path d="M141.95,357.80 A1.75,1.75 0 0 1 145.45,357.80 Z" fill="#ff0606"/><circle cx="148.40" cy="351.20" r="1.75" fill="#fff" stroke="#ff0606" stroke-width="0.8"/><path d="M146.65,351.20 A1.75,1.75 0 0 1 150.15,351.20 Z" fill="#ff0606"/><circle cx="153.40" cy="343.30" r="1.75" fill="#fff" stroke="#ff0606" stroke-width="0.8"/><path d="M151.65,343.30 A1.75,1.75 0 0 1 155.15,343.30 Z" fill="#ff0606"/><circle cx="159.30" cy="335.40" r="1.75" fill="#fff" stroke="#ff0606" stroke-width="0.8"/><path d="M157.55,335.40 A1.75,1.75 0 0 1 161.05,335.40 Z" fill="#ff0606"/><circle cx="166.50" cy="326.20" r="1.75" fill="#fff" stroke="#ff0606" stroke-width="0.8"/><path d="M164.75,326.20 A1.75,1.75 0 0 1 168.25,326.20 Z" fill="#ff0606"/><circle cx="175.80" cy="316.00" r="1.75" fill="#fff" stroke="#ff0606" stroke-width="0.8"/><path d="M174.05,316.00 A1.75,1.75 0 0 1 177.55,316.00 Z" fill="#ff0606"/><circle cx="187.90" cy="304.80" r="1.75" fill="#fff" stroke="#ff0606" stroke-width="0.8"/><path d="M186.15,304.80 A1.75,1.75 0 0 1 189.65,304.80 Z" fill="#ff0606"/><circle cx="201.60" cy="292.90" r="1.75" fill="#fff" stroke="#ff0606" stroke-width="0.8"/><path d="M199.85,292.90 A1.75,1.75 0 0 1 203.35,292.90 Z" fill="#ff0606"/><circle cx="217.30" cy="279.10" r="1.75" fill="#fff" stroke="#ff0606" stroke-width="0.8"/><path d="M215.55,279.10 A1.75,1.75 0 0 1 219.05,279.10 Z" fill="#ff0606"/><circle cx="236.40" cy="264.80" r="1.75" fill="#fff" stroke="#ff0606" stroke-width="0.8"/><path d="M234.65,264.80 A1.75,1.75 0 0 1 238.15,264.80 Z" fill="#ff0606"/><circle cx="261.00" cy="252.30" r="1.75" fill="#fff" stroke="#ff0606" stroke-width="0.8"/><path d="M259.25,252.30 A1.75,1.75 0 0 1 262.75,252.30 Z" fill="#ff0606"/></g>
<polyline points="156.1,379.3 170.30,379.30 172.40,382.00 175.90,377.20 179.50,382.00 183.10,377.20 184.90,379.30 202.50,379.30 204.60,382.00 208.10,377.20 211.70,382.00 215.30,377.20 217.10,379.30 234.70,379.30 236.80,382.00 240.30,377.20 243.90,382.00 247.50,377.20 249.30,379.30 264.1,379.3" fill="none" stroke="#151515" stroke-width="1.15" stroke-linejoin="miter"/><polyline points="197.5,379.3 197.5,394.1 222.6,394.1 222.6,379.3" fill="none" stroke="#151515" stroke-width="1.15"/><polyline points="229.8,379.3 229.8,394.1 255.2,394.1 255.2,379.3" fill="none" stroke="#151515" stroke-width="1.15"/><polyline points="206.9,391.9 208.8,394.1 206.9,396.3" fill="none" stroke="#151515" stroke-width="1.15"/><polyline points="209.8,391.9 211.70000000000002,394.1 209.8,396.3" fill="none" stroke="#151515" stroke-width="1.15"/><polyline points="239.3,391.9 241.20000000000002,394.1 239.3,396.3" fill="none" stroke="#151515" stroke-width="1.15"/><polyline points="242.20000000000002,391.9 244.10000000000002,394.1 242.20000000000002,396.3" fill="none" stroke="#151515" stroke-width="1.15"/><circle cx="197.4" cy="379.2" r="1.9" fill="#000"/><circle cx="229.7" cy="379.3" r="1.9" fill="#000"/><text transform="translate(177.7,374.7) scale(0.78,1)" text-anchor="middle" style="font-size:4.6px;fill:#222;stroke:none">Rs</text><text transform="translate(209.9,374.7) scale(0.78,1)" text-anchor="middle" style="font-size:4.6px;fill:#222;stroke:none">Rct1</text><text transform="translate(242.8,374.7) scale(0.78,1)" text-anchor="middle" style="font-size:4.6px;fill:#222;stroke:none">Rct2</text><text transform="translate(210.0,389.4) scale(0.78,1)" text-anchor="middle" style="font-size:4.6px;fill:#222;stroke:none">CPE1</text><text transform="translate(242.6,389.4) scale(0.78,1)" text-anchor="middle" style="font-size:4.6px;fill:#222;stroke:none">CPE2</text>
<rect x="310.5" y="228.1" width="231.39999999999998" height="181.79999999999998" fill="none" stroke="#111" stroke-width="1.6"/>
<line x1="306.5" y1="409.90" x2="310.5" y2="409.90" stroke="#111" stroke-width="1.3"/>
<text x="304.9" y="413.80" text-anchor="end" class="t95">0</text>
<line x1="308.3" y1="394.47" x2="310.5" y2="394.47" stroke="#111" stroke-width="1.3"/>
<line x1="306.5" y1="379.04" x2="310.5" y2="379.04" stroke="#111" stroke-width="1.3"/>
<text x="304.9" y="382.94" text-anchor="end" class="t95">10</text>
<line x1="308.3" y1="363.61" x2="310.5" y2="363.61" stroke="#111" stroke-width="1.3"/>
<line x1="306.5" y1="348.18" x2="310.5" y2="348.18" stroke="#111" stroke-width="1.3"/>
<text x="304.9" y="352.08" text-anchor="end" class="t95">20</text>
<line x1="308.3" y1="332.75" x2="310.5" y2="332.75" stroke="#111" stroke-width="1.3"/>
<line x1="306.5" y1="317.32" x2="310.5" y2="317.32" stroke="#111" stroke-width="1.3"/>
<text x="304.9" y="321.22" text-anchor="end" class="t95">30</text>
<line x1="308.3" y1="301.89" x2="310.5" y2="301.89" stroke="#111" stroke-width="1.3"/>
<line x1="306.5" y1="286.46" x2="310.5" y2="286.46" stroke="#111" stroke-width="1.3"/>
<text x="304.9" y="290.36" text-anchor="end" class="t95">40</text>
<line x1="308.3" y1="271.03" x2="310.5" y2="271.03" stroke="#111" stroke-width="1.3"/>
<line x1="306.5" y1="255.60" x2="310.5" y2="255.60" stroke="#111" stroke-width="1.3"/>
<text x="304.9" y="259.50" text-anchor="end" class="t95">50</text>
<line x1="308.3" y1="240.17" x2="310.5" y2="240.17" stroke="#111" stroke-width="1.3"/>
<line x1="310.50" y1="409.9" x2="310.50" y2="413.9" stroke="#111" stroke-width="1.3"/>
<text x="310.50" y="425" text-anchor="middle" class="t95">0.0</text>
<line x1="329.33" y1="409.9" x2="329.33" y2="412.09999999999997" stroke="#111" stroke-width="1.3"/>
<line x1="348.16" y1="409.9" x2="348.16" y2="413.9" stroke="#111" stroke-width="1.3"/>
<text x="348.16" y="425" text-anchor="middle" class="t95">0.2</text>
<line x1="366.99" y1="409.9" x2="366.99" y2="412.09999999999997" stroke="#111" stroke-width="1.3"/>
<line x1="385.82" y1="409.9" x2="385.82" y2="413.9" stroke="#111" stroke-width="1.3"/>
<text x="385.82" y="425" text-anchor="middle" class="t95">0.4</text>
<line x1="404.65" y1="409.9" x2="404.65" y2="412.09999999999997" stroke="#111" stroke-width="1.3"/>
<line x1="423.48" y1="409.9" x2="423.48" y2="413.9" stroke="#111" stroke-width="1.3"/>
<text x="423.48" y="425" text-anchor="middle" class="t95">0.6</text>
<line x1="442.31" y1="409.9" x2="442.31" y2="412.09999999999997" stroke="#111" stroke-width="1.3"/>
<line x1="461.14" y1="409.9" x2="461.14" y2="413.9" stroke="#111" stroke-width="1.3"/>
<text x="461.14" y="425" text-anchor="middle" class="t95">0.8</text>
<line x1="479.97" y1="409.9" x2="479.97" y2="412.09999999999997" stroke="#111" stroke-width="1.3"/>
<line x1="498.80" y1="409.9" x2="498.80" y2="413.9" stroke="#111" stroke-width="1.3"/>
<text x="498.80" y="425" text-anchor="middle" class="t95">1.0</text>
<line x1="517.63" y1="409.9" x2="517.63" y2="412.09999999999997" stroke="#111" stroke-width="1.3"/>
<line x1="536.46" y1="409.9" x2="536.46" y2="413.9" stroke="#111" stroke-width="1.3"/>
<text x="536.46" y="425" text-anchor="middle" class="t95">1.2</text>
<text x="433" y="437.7" text-anchor="middle" style="font-size:14.8px">Potential (V vs. RHE)</text>
<text transform="translate(289.4,325) rotate(-90)" text-anchor="middle" style="font-size:15.7px">C<tspan style="font-size:8.4px" dy="-7.3">-2</tspan><tspan dy="7.3"> (10</tspan><tspan style="font-size:8.4px" dy="-7.3">8</tspan><tspan dy="7.3">F</tspan><tspan style="font-size:8.4px" dy="-7.3"> -2</tspan><tspan dy="7.3">cm</tspan><tspan style="font-size:8.4px" dy="-7.3">4</tspan><tspan dy="7.3">)</tspan></text>
<text x="274.5" y="239.4" class="b15">(d)</text>
<defs><radialGradient id="gb" cx="0.5" cy="0.5" r="0.5" fx="0.36" fy="0.32"><stop offset="0" stop-color="#ffffff"/><stop offset="0.17" stop-color="#f0f0ff"/><stop offset="0.36" stop-color="#6464ff"/><stop offset="0.75" stop-color="#4242fa"/><stop offset="1" stop-color="#3232d8"/></radialGradient><radialGradient id="gr" cx="0.5" cy="0.5" r="0.5" fx="0.36" fy="0.32"><stop offset="0" stop-color="#ffffff"/><stop offset="0.17" stop-color="#fff0f0"/><stop offset="0.36" stop-color="#ff3030"/><stop offset="0.75" stop-color="#ff0808"/><stop offset="1" stop-color="#dd0000"/></radialGradient></defs>
<circle cx="324.45" cy="240.05" r="3.65" fill="url(#gb)"/>
<circle cx="324.45" cy="255.25" r="3.65" fill="url(#gr)"/>
<text x="338.3" y="243.3" style="font-size:9.5px">TiO<tspan style="font-size:6.2px" dy="3">2</tspan></text>
<text x="338.3" y="257.8" style="font-size:9.5px">TiO<tspan style="font-size:6.2px" dy="3">2-x</tspan></text>
<defs><clipPath id="cd"><rect x="310.5" y="228.1" width="231.39999999999998" height="181.79999999999998"/></clipPath></defs>
<g clip-path="url(#cd)"><circle cx="314.62" cy="408.81" r="3.65" fill="url(#gr)"/><circle cx="324.03" cy="408.81" r="3.65" fill="url(#gr)"/><circle cx="333.45" cy="408.81" r="3.65" fill="url(#gr)"/><circle cx="342.86" cy="408.81" r="3.65" fill="url(#gr)"/><circle cx="352.28" cy="408.81" r="3.65" fill="url(#gr)"/><circle cx="361.69" cy="408.65" r="3.65" fill="url(#gr)"/><circle cx="371.11" cy="408.50" r="3.65" fill="url(#gr)"/><circle cx="380.52" cy="406.96" r="3.65" fill="url(#gr)"/><circle cx="389.94" cy="405.41" r="3.65" fill="url(#gr)"/><circle cx="399.35" cy="403.25" r="3.65" fill="url(#gr)"/><circle cx="408.77" cy="400.47" r="3.65" fill="url(#gr)"/><circle cx="418.18" cy="397.39" r="3.65" fill="url(#gr)"/><circle cx="427.60" cy="393.69" r="3.65" fill="url(#gr)"/><circle cx="437.01" cy="389.37" r="3.65" fill="url(#gr)"/><circle cx="446.43" cy="384.43" r="3.65" fill="url(#gr)"/><circle cx="455.84" cy="378.87" r="3.65" fill="url(#gr)"/><circle cx="465.26" cy="373.63" r="3.65" fill="url(#gr)"/><circle cx="474.67" cy="368.69" r="3.65" fill="url(#gr)"/><circle cx="484.09" cy="364.37" r="3.65" fill="url(#gr)"/><circle cx="493.50" cy="362.21" r="3.65" fill="url(#gr)"/><circle cx="502.92" cy="362.52" r="3.65" fill="url(#gr)"/><circle cx="512.33" cy="365.60" r="3.65" fill="url(#gr)"/><circle cx="521.75" cy="371.77" r="3.65" fill="url(#gr)"/><circle cx="531.16" cy="379.80" r="3.65" fill="url(#gr)"/><circle cx="540.58" cy="386.90" r="3.65" fill="url(#gr)"/><circle cx="314.62" cy="406.34" r="3.65" fill="url(#gb)"/><circle cx="324.03" cy="406.34" r="3.65" fill="url(#gb)"/><circle cx="333.45" cy="406.03" r="3.65" fill="url(#gb)"/><circle cx="342.86" cy="405.41" r="3.65" fill="url(#gb)"/><circle cx="352.28" cy="404.49" r="3.65" fill="url(#gb)"/><circle cx="361.69" cy="402.94" r="3.65" fill="url(#gb)"/><circle cx="371.11" cy="400.78" r="3.65" fill="url(#gb)"/><circle cx="380.52" cy="397.39" r="3.65" fill="url(#gb)"/><circle cx="389.94" cy="391.83" r="3.65" fill="url(#gb)"/><circle cx="399.35" cy="384.74" r="3.65" fill="url(#gb)"/><circle cx="408.77" cy="376.40" r="3.65" fill="url(#gb)"/><circle cx="418.18" cy="366.22" r="3.65" fill="url(#gb)"/><circle cx="427.60" cy="356.04" r="3.65" fill="url(#gb)"/><circle cx="437.01" cy="345.24" r="3.65" fill="url(#gb)"/><circle cx="446.43" cy="334.13" r="3.65" fill="url(#gb)"/><circle cx="455.84" cy="322.40" r="3.65" fill="url(#gb)"/><circle cx="465.26" cy="310.36" r="3.65" fill="url(#gb)"/><circle cx="474.67" cy="299.25" r="3.65" fill="url(#gb)"/><circle cx="484.09" cy="290.00" r="3.65" fill="url(#gb)"/><circle cx="493.50" cy="285.06" r="3.65" fill="url(#gb)"/><circle cx="502.92" cy="288.45" r="3.65" fill="url(#gb)"/><circle cx="512.33" cy="300.18" r="3.65" fill="url(#gb)"/><circle cx="521.75" cy="318.70" r="3.65" fill="url(#gb)"/><circle cx="531.16" cy="339.06" r="3.65" fill="url(#gb)"/><circle cx="540.58" cy="356.96" r="3.65" fill="url(#gb)"/><line x1="375.09" y1="409.90" x2="493.15" y2="284.30" stroke="#4d4df5" stroke-width="2.6"/><line x1="385.26" y1="409.90" x2="493.15" y2="361.75" stroke="#ff0606" stroke-width="2.6"/></g>
<text transform="translate(456.2,305) rotate(-50)" style="font-size:11.5px;fill:#2a2af5;stroke:#2a2af5">64.91</text>
<text transform="translate(461,361.8) rotate(-22)" style="font-size:11.8px;fill:#ff1010;stroke:#ff1010">27.23</text>
</svg></body></html>
